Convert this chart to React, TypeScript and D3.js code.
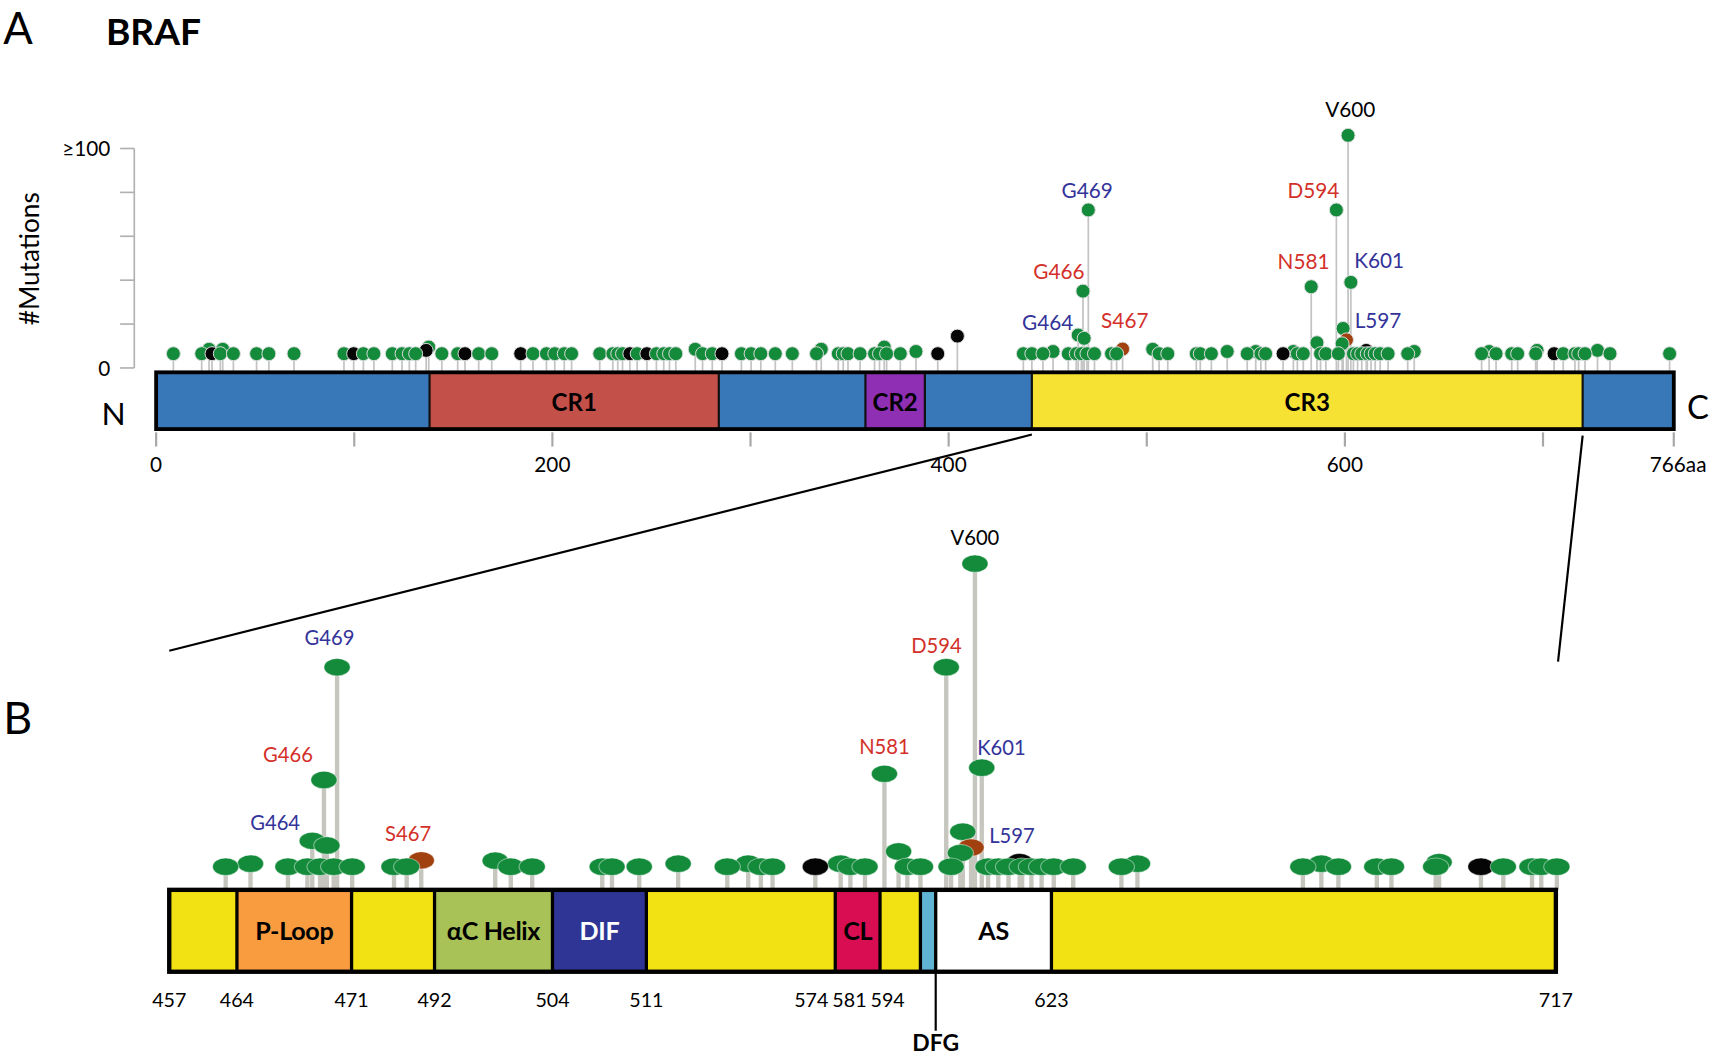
import * as d3 from "d3";

// design units match the source figure; the svg scales them to the window
const VW = 1568;
const VH = 969;

// ---- panel A: whole BRAF protein ----
const PROTEIN_LEN = 766;
const A_DOMAIN_NAMES = ["", "CR1", "", "CR2", "", "CR3", ""];
const A_DOMAIN_BOUNDS = [0, 138, 284, 358, 388, 442, 720, 766];
const A_AXIS_TICKS = [0, 100, 200, 300, 400, 500, 600, 700, 766];
const A_AXIS_LABELS = ["0", "", "200", "", "400", "", "600", "", "766aa"];
const Y_TICKS = [0, 20, 40, 60, 80, 100];
const Y_TICK_LABELS = ["0", "", "", "", "", "≥100"];

// ---- panel B: kinase domain blow-up ----
const B_BOUNDS = [457, 464, 471, 492, 504, 511, 574, 581, 594, 596, 623, 717];
const B_DOMAIN_NAMES = ["", "P-Loop", "", "αC Helix", "DIF", "", "CL", "", "DFG", "AS", ""];
const B_TICKS = [457, 464, 471, 492, 504, 511, 574, 581, 594, 623, 717];
const B_ZOOM = [436, 721]; // aa window of A shown in B

// ---- mutations (position, height as drawn, type g=missense k=truncating b=other) ----
const MUT_POS = [
  8.7, 23, 26.7, 28.2, 32.4, 33.6, 39, 50.7, 56.9, 69.6,
  94.8, 99.7, 104.6, 109.9, 119.2, 124.1, 127.8, 131, 136.3, 137.6,
  144.2, 152.2, 155.9, 162.8, 169.4, 184, 190.2, 197, 201.2, 206,
  209.7, 223.9, 230.5, 233, 235.4, 239.1, 242.8, 247.7, 252.5, 256.2,
  259.1, 262.3, 272.1, 275.8, 280.7, 285.6, 295.4, 300.3, 305.2, 312.5,
  321.1, 333.3, 335.7, 344.3, 346.8, 349.2, 355.3, 362.6, 365.1, 367.5,
  368.7, 375.6, 383.5, 394.5, 404.4, 437.7, 442, 447.6, 452.7, 460.4,
  464.4, 465.4, 467, 467.8, 468.4, 469.8, 470.5, 473.6, 482.2, 484.8,
  487.8, 503, 506.2, 510.6, 525, 527, 532.6, 540.6, 550.7, 555,
  557.6, 560, 568.8, 574, 576, 579, 583, 585.9, 587.7, 590.4,
  595.7, 596.7, 598.6, 599.1, 600.8, 601.6, 603, 604.3, 606.4, 608.5,
  610.8, 611.3, 613.2, 615.3, 617.8, 621.8, 631.7, 635, 669, 672.8,
  676.3, 684.2, 687.2, 696.3, 697, 705.6, 710.2, 716.1, 718, 721.2,
  727.5, 733.8, 763.9,
];
const MUT_COUNT = [
  6.5, 6.5, 8.5, 6.5, 6.5, 8.5, 6.5, 6.5, 6.5, 6.5,
  6.5, 6.5, 6.5, 6.5, 6.5, 6.5, 6.5, 6.5, 8, 9.5,
  6.5, 6.5, 6.5, 6.5, 6.5, 6.5, 6.5, 6.5, 6.5, 6.5,
  6.5, 6.5, 6.5, 6.5, 6.5, 6.5, 6.5, 6.5, 6.5, 6.5,
  6.5, 6.5, 8.5, 6.5, 6.5, 6.5, 6.5, 6.5, 6.5, 6.5,
  6.5, 6.5, 8.5, 6.5, 6.5, 6.5, 6.5, 6.5, 6.5, 9.5,
  6.5, 6.5, 7.5, 6.5, 14.5, 6.5, 6.5, 6.5, 7.5, 6.5,
  6.5, 15, 6.5, 35, 13.5, 6.5, 72, 6.5, 6.5, 6.5,
  8.6, 8.5, 6.5, 6.5, 6.5, 6.5, 6.5, 7.5, 6.5, 7.5,
  6.5, 6.5, 6.5, 7.5, 6.5, 6.5, 37, 11.5, 6.5, 6.5,
  72, 6.5, 11, 18, 12.8, 106, 39, 6.5, 6.5, 6.5,
  8, 6.5, 6.5, 6.5, 6.5, 6.5, 6.5, 7.5, 6.5, 7.5,
  6.5, 6.5, 6.5, 6.5, 8, 6.5, 6.5, 6.5, 6.5, 6.5,
  8, 6.5, 6.5,
];
const MUT_TYPE = (
  "gggkgggggg" + "gkggggggkg" + "ggkggkgggg" + "gggggkgkgg" + "gggggkgggg" +
  "gggggggggg" + "gggkkggggg" + "gggggggggg" + "bggggggggg" + "ggkggggggg" +
  "ggggbggggg" + "kggggggggg" + "gggggkgggg" + "ggg"
).split("");

const HOTSPOT_NAMES = ["V600", "G469", "D594", "G466", "N581", "K601", "G464", "S467", "L597"];
const HOTSPOT_POS = [601.6, 470.5, 595.7, 467.8, 583, 603, 465.4, 487.8, 599.1];
const HOTSPOT_GROUP = ["none", "blue", "red", "red", "red", "blue", "blue", "red", "blue"];

// styling
const FONT = "Lato, 'DejaVu Sans', sans-serif";
const A_COLORS: Record<string, string> = { "": "#3878b9", CR1: "#c4504a", CR2: "#8f2fb3", CR3: "#f6e233" };
const B_COLORS: Record<string, string> = {
  "": "#f2e214", "P-Loop": "#f99c3f", "αC Helix": "#a9c257", DIF: "#2e3595",
  CL: "#d80d52", DFG: "#5fb3d3", AS: "#ffffff",
};
const TYPE_COLOR: Record<string, string> = { g: "#138b3b", k: "#050505", b: "#a0410f" };
const GROUP_COLOR: Record<string, string> = { none: "#000000", blue: "#33339a", red: "#d3302a" };

// label placement relative to its marker
const LABEL_DA: Record<string, [number, number]> = {
  V600: [2, -17], G469: [-1, -11], D594: [-21, -11], G466: [-22, -11], N581: [-7, -16],
  K601: [26, -13], G464: [-28, -5], S467: [2, -19], L597: [32, 0],
};
const LABEL_DB: Record<string, [number, number]> = {
  V600: [0, -17], G469: [-7, -20], D594: [-9, -13], N581: [0, -18], K601: [18, -12],
  G466: [-33, -16], G464: [-34, -10], S467: [-12, -18], L597: [45, 10],
};

export default function App() {
  // panel A geometry
  const aBarTop = 341, aBarBot = 393;
  const xA = d3.scaleLinear().domain([0, PROTEIN_LEN]).range([143, 1533]);
  const yA = d3.scaleLinear().domain([0, 100]).range([337, 136]);
  const yAxisX = 123;

  // panel B geometry (domain boxes are schematic, mutations follow the A window)
  const bBarTop = 815, bBarBot = 890;
  const xB = d3.scaleLinear().domain(B_BOUNDS)
    .range([155, 217, 322, 398, 506, 592, 765, 806, 843, 857, 963, 1425]);
  const xBm = d3.scaleLinear().domain(B_ZOOM).range([155, 1425]);
  const yB = d3.scaleLinear().domain([0, 100]).range([812, 533]);

  const muts = MUT_POS.map((p, i) => ({ pos: p, n: MUT_COUNT[i], t: MUT_TYPE[i] }));
  const drawOrder = [...muts].sort((a, b) => b.n - a.n);
  const mutsB = drawOrder.filter((m) => m.pos >= 445 && m.pos <= 722);

  const countAt = (p: number) => muts.find((m) => m.pos === p)?.n ?? 0;

  // B tick labels: pack right-to-left so crowded ones don't collide
  const dfgX = xB(596);
  const tickW = 32;
  const bTickPos: number[] = new Array(B_TICKS.length);
  let limit = Infinity;
  for (let i = B_TICKS.length - 1; i >= 0; i--) {
    const bx = xB(B_TICKS[i]);
    let lim = limit;
    if (bx < dfgX && bx > dfgX - 20) lim = Math.min(lim, dfgX - 28);
    const right = Math.min(bx + tickW / 2, lim);
    bTickPos[i] = right - tickW / 2;
    limit = right - tickW - 3;
  }

  const aSegs = A_DOMAIN_NAMES.map((n, i) => ({ n, s: A_DOMAIN_BOUNDS[i], e: A_DOMAIN_BOUNDS[i + 1] }));
  const bSegs = B_DOMAIN_NAMES.map((n, i) => ({ n, s: B_BOUNDS[i], e: B_BOUNDS[i + 1] }));

  return (
    <svg
      width={1712}
      height={1058}
      viewBox={`0 0 ${VW} ${VH}`}
      style={{ position: "absolute", left: 0, top: 0, background: "#fff" }}
      fontFamily={FONT}
    >
      <rect x={0} y={0} width={VW} height={VH} fill="#fff" />

      {/* panel letters and title */}
      <text x={3} y={40} fontSize={40}>A</text>
      <text x={97} y={41} fontSize={34} fontWeight="bold">BRAF</text>
      <text x={3} y={672} fontSize={41}>B</text>

      {/* y axis */}
      <line x1={yAxisX} x2={yAxisX} y1={yA(100)} y2={yA(0)} stroke="#b0b0b0" strokeWidth={1.5} />
      {Y_TICKS.map((t, i) => (
        <g key={t}>
          <line x1={110} x2={yAxisX} y1={yA(t)} y2={yA(t)} stroke="#b0b0b0" strokeWidth={1.5} />
          {Y_TICK_LABELS[i] && (
            <text x={101} y={yA(t) + 7} fontSize={19} textAnchor="end">{Y_TICK_LABELS[i]}</text>
          )}
        </g>
      ))}
      <text transform="translate(36,237) rotate(-90)" fontSize={24} textAnchor="middle">#Mutations</text>

      {/* A stems */}
      {drawOrder.map((m, i) => (
        <line key={"as" + i} x1={xA(m.pos)} x2={xA(m.pos)} y1={aBarTop} y2={yA(m.n)}
          stroke="#c4c4c4" strokeWidth={1.6} />
      ))}
      {/* A markers */}
      {drawOrder.map((m, i) => (
        <circle key={"am" + i} cx={xA(m.pos)} cy={yA(m.n)} r={6.4}
          fill={TYPE_COLOR[m.t]} stroke="#dcdcdc" strokeWidth={0.9} />
      ))}

      {/* A protein bar */}
      {aSegs.map((d, i) => (
        <g key={"ad" + i}>
          <rect x={xA(d.s)} y={aBarTop} width={xA(d.e) - xA(d.s)} height={aBarBot - aBarTop}
            fill={A_COLORS[d.n]} />
          {d.n && (
            <text x={(xA(d.s) + xA(d.e)) / 2} y={376} fontSize={22} fontWeight="bold" textAnchor="middle">
              {d.n}
            </text>
          )}
        </g>
      ))}
      {A_DOMAIN_BOUNDS.slice(1, -1).map((b) => (
        <line key={"adl" + b} x1={xA(b)} x2={xA(b)} y1={aBarTop} y2={aBarBot} stroke="#111" strokeWidth={2} />
      ))}
      <rect x={xA(0)} y={aBarTop} width={xA(PROTEIN_LEN) - xA(0)} height={aBarBot - aBarTop}
        fill="none" stroke="#000" strokeWidth={3.5} />
      <text x={93} y={389} fontSize={29}>N</text>
      <text x={1545} y={384} fontSize={30}>C</text>

      {/* A x axis */}
      {A_AXIS_TICKS.map((t, i) => (
        <g key={"at" + t}>
          <line x1={xA(t)} x2={xA(t)} y1={aBarBot + 3} y2={409} stroke="#a8a8a8" strokeWidth={2} />
          {A_AXIS_LABELS[i] && (
            <text x={t === PROTEIN_LEN ? xA(t) - 22 : xA(t)} y={432} fontSize={19}
              textAnchor={t === PROTEIN_LEN ? "start" : "middle"}>
              {A_AXIS_LABELS[i]}
            </text>
          )}
        </g>
      ))}

      {/* A labels */}
      {HOTSPOT_NAMES.map((name, i) => {
        const [dx, dy] = LABEL_DA[name];
        const p = HOTSPOT_POS[i];
        return (
          <text key={"al" + name} x={xA(p) + dx} y={yA(countAt(p)) + dy} fontSize={19}
            textAnchor="middle" fill={GROUP_COLOR[HOTSPOT_GROUP[i]]}>
            {name}
          </text>
        );
      })}

      {/* zoom connector lines */}
      <line x1={xA(442)} y1={398} x2={155} y2={596} stroke="#000" strokeWidth={2} />
      <line x1={xA(720)} y1={399} x2={1427} y2={606} stroke="#000" strokeWidth={2} />

      {/* B stems */}
      {mutsB.map((m, i) => (
        <line key={"bs" + i} x1={xBm(m.pos)} x2={xBm(m.pos)} y1={bBarTop} y2={yB(m.n)}
          stroke="#c6c6bf" strokeWidth={4} />
      ))}
      {/* B markers */}
      {mutsB.map((m, i) => (
        <ellipse key={"bm" + i} cx={xBm(m.pos)} cy={yB(m.n)} rx={12} ry={8}
          fill={TYPE_COLOR[m.t]} stroke="#ffffff" strokeOpacity={0.45} strokeWidth={1} />
      ))}

      {/* B kinase domain bar */}
      {bSegs.map((d, i) => (
        <rect key={"bd" + i} x={xB(d.s)} y={bBarTop} width={xB(d.e) - xB(d.s)} height={bBarBot - bBarTop}
          fill={B_COLORS[d.n]} />
      ))}
      {B_BOUNDS.slice(1, -1).map((b) => (
        <line key={"bdl" + b} x1={xB(b)} x2={xB(b)} y1={bBarTop} y2={bBarBot} stroke="#000" strokeWidth={3} />
      ))}
      <rect x={xB(457)} y={bBarTop} width={xB(717) - xB(457)} height={bBarBot - bBarTop}
        fill="none" stroke="#000" strokeWidth={4} />
      {bSegs.filter((d) => d.n && d.n !== "DFG").map((d) => (
        <text key={"bdt" + d.n} x={(xB(d.s) + xB(d.e)) / 2} y={861} fontSize={23} fontWeight="bold"
          textAnchor="middle" fill={d.n === "DIF" ? "#fff" : "#000"} letterSpacing={-0.3}>
          {d.n}
        </text>
      ))}

      {/* B tick labels */}
      {B_TICKS.map((t, i) => (
        <text key={"bt" + t} x={bTickPos[i]} y={922} fontSize={18} textAnchor="middle">{t}</text>
      ))}
      <line x1={dfgX} x2={dfgX} y1={bBarBot} y2={944} stroke="#000" strokeWidth={2} />
      <text x={dfgX} y={963} fontSize={21} fontWeight="bold" textAnchor="middle">DFG</text>

      {/* B labels */}
      {HOTSPOT_NAMES.map((name, i) => {
        const [dx, dy] = LABEL_DB[name];
        const p = HOTSPOT_POS[i];
        return (
          <text key={"bl" + name} x={xBm(p) + dx} y={yB(countAt(p)) + dy} fontSize={18.5}
            textAnchor="middle" fill={GROUP_COLOR[HOTSPOT_GROUP[i]]}>
            {name}
          </text>
        );
      })}
    </svg>
  );
}
